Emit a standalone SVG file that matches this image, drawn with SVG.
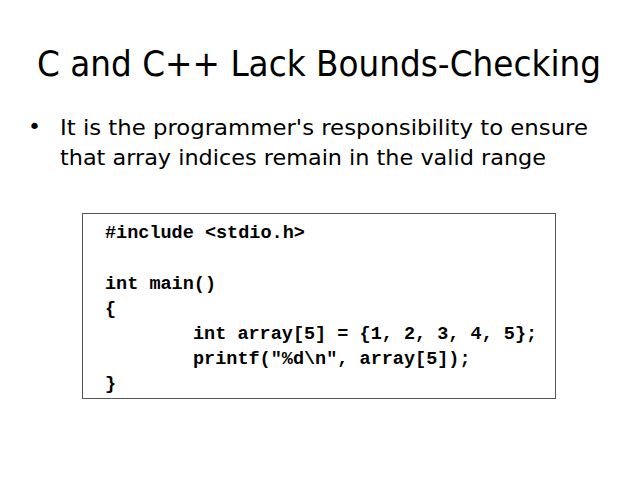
<svg xmlns="http://www.w3.org/2000/svg" width="638" height="478" viewBox="0 0 638 478">
<style>
.t{font-family:"DejaVu Sans","Liberation Sans",sans-serif;fill:#000}
.c{font-family:"Liberation Mono","Courier New",monospace;font-weight:bold;font-size:18.5px;fill:#000}
</style>
<rect width="638" height="478" fill="#fff"/>
<text class="t" x="37" y="76" font-size="35" textLength="564" lengthAdjust="spacingAndGlyphs">C and C++ Lack Bounds-Checking</text>
<text class="t" x="28" y="134" font-size="22">•</text>
<text class="t" x="60" y="135" font-size="22" textLength="528" lengthAdjust="spacingAndGlyphs">It is the programmer's responsibility to ensure</text>
<text class="t" x="60" y="165" font-size="22" textLength="486" lengthAdjust="spacingAndGlyphs">that array indices remain in the valid range</text>
<g id="code">
<rect x="82.5" y="213.5" width="473" height="185" fill="#fff" stroke="#555" stroke-width="1"/>
<text class="c" x="105" y="238">#include &lt;stdio.h&gt;</text>
<text class="c" x="105" y="289">int main()</text>
<text class="c" x="105" y="314">{</text>
<text class="c" x="193" y="339">int array[5] = {1, 2, 3, 4, 5};</text>
<text class="c" x="193" y="364">printf("%d\n", array[5]);</text>
<text class="c" x="105" y="389">}</text>
</g>
</svg>
